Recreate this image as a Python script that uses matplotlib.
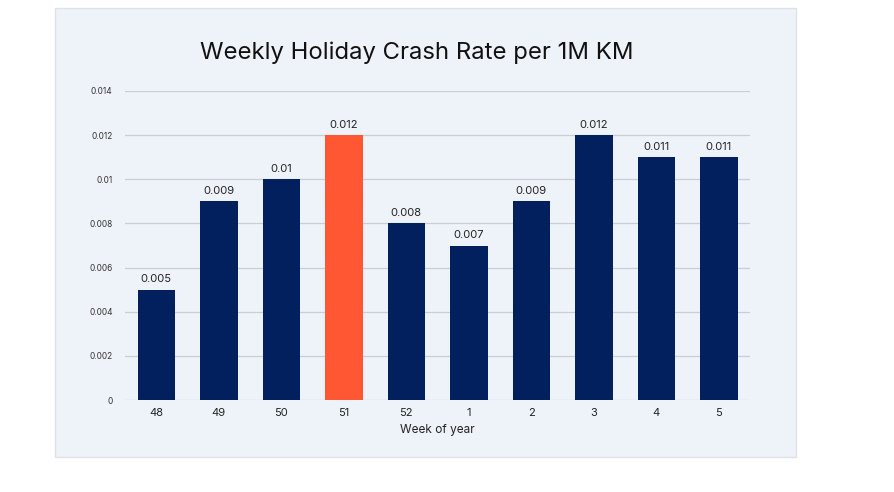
import matplotlib.pyplot as plt
from matplotlib.patches import Rectangle

# data
weeks = ["48", "49", "50", "51", "52", "1", "2", "3", "4", "5"]
rates = [0.005, 0.009, 0.01, 0.012, 0.008, 0.007, 0.009, 0.012, 0.011, 0.011]
value_labels = ["0.005", "0.009", "0.01", "0.012", "0.008", "0.007", "0.009", "0.012", "0.011", "0.011"]
highlight_week = "51"
y_ticks = [0, 0.002, 0.004, 0.006, 0.008, 0.01, 0.012, 0.014]
y_tick_labels = ["0", "0.002", "0.004", "0.006", "0.008", "0.01", "0.012", "0.014"]

plt.rcParams['font.family'] = ['Inter', 'DejaVu Sans']

W, H = 894, 492
fig = plt.figure(figsize=(W / 100, H / 100), dpi=100)
fig.patch.set_facecolor("white")

# light panel behind the chart
fig.patches.append(Rectangle((55 / W, 1 - 457 / H), 741 / W, 449 / H,
                             transform=fig.transFigure, facecolor="#eef3f9",
                             edgecolor="#dfe3e8", linewidth=1, zorder=-5))

ax = fig.add_axes([125 / W, 1 - 400 / H, 625 / W, 309 / H])
ax.set_zorder(2)
ax.set_facecolor("none")

colors = ["#ff5733" if w == highlight_week else "#03205e" for w in weeks]
x = range(len(weeks))
bars = ax.bar(x, rates, width=0.6, color=colors, zorder=3)

for b, lab in zip(bars, value_labels):
    ax.text(b.get_x() + b.get_width() / 2, b.get_height() + 0.00025, lab,
            ha="center", va="bottom", fontsize=8, color="#222222")

ax.set_xlim(-0.5, len(weeks) - 0.5)
ax.set_ylim(0, 0.014)
ax.set_yticks(y_ticks)
ax.set_yticklabels(y_tick_labels)
ax.set_xticks(list(x))
ax.set_xticklabels(weeks)
ax.tick_params(axis="y", length=0, pad=9, labelsize=6, labelcolor="#333333")
ax.tick_params(axis="x", length=0, pad=6, labelsize=8, labelcolor="#222222")
ax.grid(axis="y", color="#c9ced6", linewidth=0.9, zorder=0)
for s in ax.spines.values():
    s.set_visible(False)

ax.set_xlabel("Week of year", fontsize=8.5, color="#222222", labelpad=4)
fig.text(417 / W, 1 - 53 / H, "Weekly Holiday Crash Rate per 1M KM",
         ha="center", va="center", fontsize=17.2, color="#111111")

fig.savefig("out.png", dpi=100)
